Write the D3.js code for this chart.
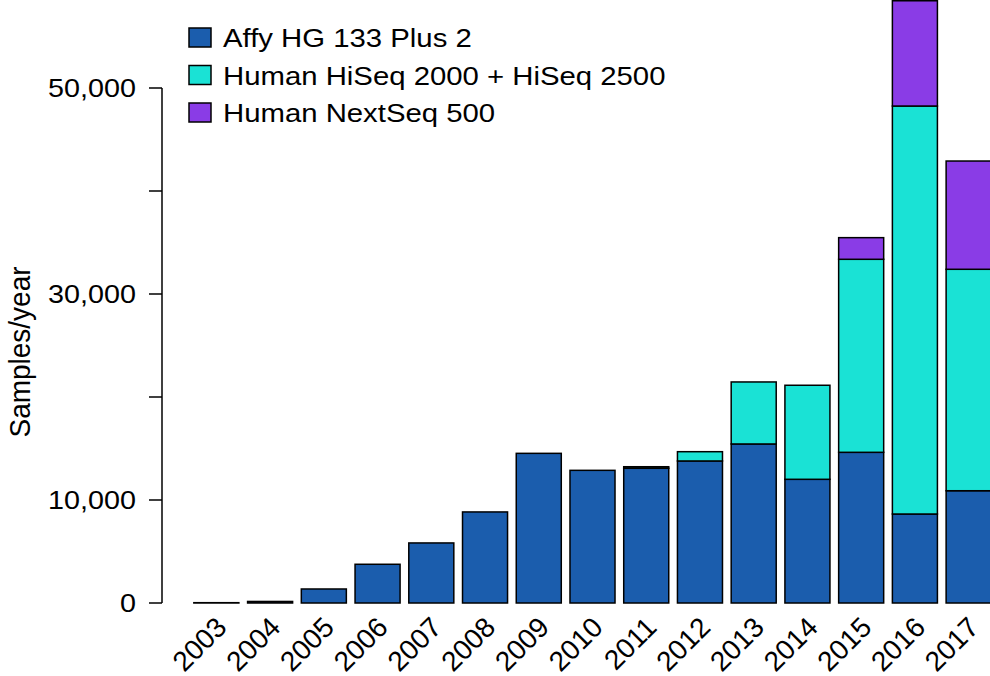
<!DOCTYPE html>
<html>
<head>
<meta charset="utf-8">
<script src="https://cdn.jsdelivr.net/npm/d3@7"></script>
<style>
  body { margin: 0; background: #fff; }
  text { font-family: "Liberation Sans", Arial, Helvetica, sans-serif; fill: #000; }
</style>
</head>
<body>
<div id="app"></div>
<script>
// values (samples per year)
var years = ['2003','2004','2005','2006','2007','2008','2009','2010','2011','2012','2013','2014','2015','2016','2017'];
var affy =    [30, 150, 1360, 3760, 5830, 8840, 14530, 12880, 13080, 13790, 15440, 12010, 14630, 8640, 10900];
var hiseq =   [0, 0, 0, 0, 0, 0, 0, 0, 150, 900, 6020, 9130, 18740, 39610, 21500];
var nextseq = [0, 0, 0, 0, 0, 0, 0, 0, 0, 0, 0, 0, 2100, 10220, 10510];

var seriesNames = ['Affy HG 133 Plus 2', 'Human HiSeq 2000 + HiSeq 2500', 'Human NextSeq 500'];
var colors = ['#1b5dad', '#1ae2d5', '#8a3ce6'];

var yTicks = [0, 10000, 20000, 30000, 40000, 50000];
var yTickLabels = ['0', '10,000', '', '30,000', '', '50,000'];

var width = 990, height = 676;
var sx = 1.15; // glyphs in the figure are a bit wider than normal

var svg = d3.select('#app')
  .append('svg')
    .attr('width', width)
    .attr('height', height);

var x = d3.scaleBand()
    .domain(years)
    .range([189.5, 995.5])
    .paddingInner(0.162)
    .paddingOuter(0.081);

var y = d3.scaleLinear()
    .domain([0, 50000])
    .range([603, 88]);

var rows = years.map(function(yr, i){
  return {year: yr, a: affy[i], h: hiseq[i], n: nextseq[i]};
});
var stack = d3.stack().keys(['a','h','n'])(rows);

svg.append('g')
    .attr('class','bars')
  .selectAll('g')
    .data(stack)
  .enter().append('g')
    .attr('fill', function(d, i){ return colors[i]; })
  .selectAll('rect')
    .data(function(d){ return d.filter(function(p){ return p[1] - p[0] > 0; }); })
  .enter().append('rect')
    .attr('x', function(d){ return x(d.data.year); })
    .attr('width', x.bandwidth())
    .attr('y', function(d){ return y(d[1]); })
    .attr('height', function(d){ return y(d[0]) - y(d[1]); })
    .attr('stroke', '#000')
    .attr('stroke-width', 1.5);

// y axis, R style
var axis = svg.append('g').attr('class','axis');
axis.append('line')
    .attr('x1', 162).attr('x2', 162)
    .attr('y1', y(0)).attr('y2', y(50000))
    .attr('stroke', '#000').attr('stroke-width', 1.5);

axis.selectAll('line.tick')
    .data(yTicks)
  .enter().append('line')
    .attr('class','tick')
    .attr('x1', 149).attr('x2', 162)
    .attr('y1', function(d){ return y(d); })
    .attr('y2', function(d){ return y(d); })
    .attr('stroke', '#000').attr('stroke-width', 1.5);

axis.selectAll('text')
    .data(yTicks)
  .enter().append('text')
    .attr('transform', function(d){ return 'translate(136,' + (y(d) + 9) + ') scale(' + sx + ',1)'; })
    .style('text-anchor','end')
    .style('font-size','25px')
    .text(function(d, i){ return yTickLabels[i]; });

svg.append('text')
    .attr('transform', 'translate(30,352) scale(1.05,1) rotate(-90)')
    .style('text-anchor','middle')
    .style('font-size','28px')
    .text('Samples/year');

// year labels
svg.append('g')
  .selectAll('text')
    .data(years)
  .enter().append('text')
    .attr('transform', function(d){
      return 'translate(' + (x(d) + x.bandwidth() / 2 + 12) + ',629) rotate(-45)';
    })
    .style('text-anchor','end')
    .style('font-size','28px')
    .text(function(d){ return d; });

// legend
var legend = svg.append('g').attr('class','legend')
  .selectAll('g')
    .data(seriesNames)
  .enter().append('g')
    .attr('transform', function(d, i){ return 'translate(189,' + (28 + i * 37.5) + ')'; });

legend.append('rect')
    .attr('width', 22)
    .attr('height', 19)
    .attr('fill', function(d, i){ return colors[i]; })
    .attr('stroke', '#000')
    .attr('stroke-width', 1.5);

legend.append('text')
    .attr('transform', 'translate(34,19) scale(' + sx + ',1)')
    .style('font-size','25.5px')
    .text(function(d){ return d; });
</script>
</body>
</html>
